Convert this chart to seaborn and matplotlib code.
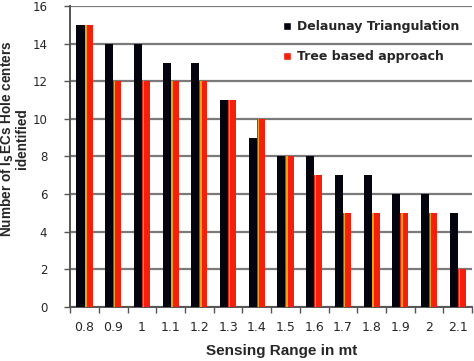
import matplotlib
matplotlib.use('Agg')
import matplotlib.pyplot as plt
import seaborn as sns
import pandas as pd
import numpy as np
from matplotlib.patches import Rectangle

ranges = ['0.8', '0.9', '1', '1.1', '1.2', '1.3', '1.4', '1.5', '1.6', '1.7', '1.8', '1.9', '2', '2.1']
delaunay = [15, 14, 14, 13, 13, 11, 9, 8, 8, 7, 7, 6, 6, 5]
tree_based = [15, 12, 12, 12, 12, 11, 10, 8, 7, 5, 5, 5, 5, 2]
series_names = ['Delaunay Triangulation', 'Tree based approach']

df = pd.DataFrame({
    'range': ranges * 2,
    'count': delaunay + tree_based,
    'method': [series_names[0]] * len(ranges) + [series_names[1]] * len(ranges),
})

sns.set_style('white')
plt.rcParams['font.family'] = ['DejaVu Sans']

fig = plt.figure(figsize=(4.74, 3.61), dpi=100)
ax = fig.add_axes([0.148, 0.150, 0.848, 0.833])

sns.barplot(data=df, x='range', y='count', hue='method', order=ranges,
            hue_order=series_names, palette=['#04040e', '#f4200c'],
            width=0.56, saturation=1, ax=ax, zorder=3)

for cont in ax.containers:
    for p in cont:
        p.set_edgecolor('none')

# orange-yellow highlight on the left side of the red bars
for p in ax.containers[1]:
    w = p.get_width()
    ax.add_patch(Rectangle((p.get_x() + 0.1 * w, 0), 0.18 * w, p.get_height(),
                           color='#f2a010', lw=0, zorder=4))

ax.set_ylim(0, 16)
ax.set_xlim(-0.5, len(ranges) - 0.5)
ax.set_yticks(np.arange(0, 17, 2))
ax.yaxis.grid(True, color='#7a7a7a', linewidth=1.6, zorder=0)
ax.set_axisbelow(True)

# category boundaries as ticks, labels at centres
ax.set_xticks(np.arange(-0.5, len(ranges), 1))
ax.set_xticklabels([])
ax.set_xticks(np.arange(len(ranges)), minor=True)
ax.set_xticklabels(ranges, minor=True, fontsize=9)
ax.tick_params(axis='x', which='major', direction='out', length=4, width=1, color='#555555', bottom=True)
ax.tick_params(axis='x', which='minor', length=0, pad=10)
ax.tick_params(axis='y', direction='out', length=4, width=1, color='#555555', left=True, labelsize=8.5, pad=12.5)

for s in ['top', 'right']:
    ax.spines[s].set_visible(False)
ax.spines['left'].set_color('#555555')
ax.spines['bottom'].set_color('#555555')
ax.spines['left'].set_linewidth(1.4)
ax.spines['bottom'].set_linewidth(1.4)

ax.set_xlabel('Sensing Range in mt', fontsize=11, fontweight='bold',
              family=['Liberation Sans', 'DejaVu Sans'])
ax.xaxis.set_label_coords(0.527, -0.125)
ax.set_ylabel('Number of I$_{\\mathbf{S}}$ECs Hole centers\nidentified', fontsize=9.8,
              fontweight='bold', linespacing=0.9, family=['Liberation Sans', 'DejaVu Sans'])
ax.yaxis.set_label_coords(-0.102, 0.56)

leg = ax.legend(loc='upper right', bbox_to_anchor=(0.997, 0.99), frameon=False,
                handlelength=0.65, handleheight=0.65, handletextpad=0.5,
                labelspacing=1.35, prop={'weight': 'bold', 'size': 9})

fig.savefig('out.png', dpi=100)
plt.close(fig)
